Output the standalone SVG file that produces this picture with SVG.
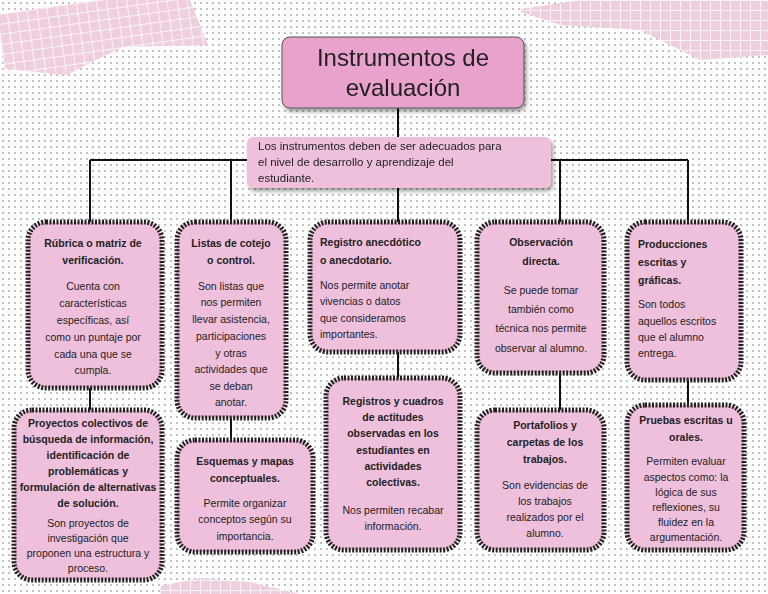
<svg xmlns="http://www.w3.org/2000/svg" width="768" height="594" viewBox="0 0 768 594">
<defs>
<pattern id="dots" width="6" height="6" patternUnits="userSpaceOnUse"><circle cx="3" cy="3" r="0.7" fill="#555"/></pattern>
<pattern id="grid" width="10" height="10" patternUnits="userSpaceOnUse"><rect width="10" height="10" fill="#efcfdf"/><path d="M0 0H10M0 0V10" stroke="#fff" stroke-width="1.5"/></pattern>
<filter id="sh" x="-10%" y="-10%" width="130%" height="130%"><feDropShadow dx="2" dy="3" stdDeviation="2" flood-opacity="0.4"/></filter>
</defs>
<style>
.box{fill:#efc0dc;stroke:#222;stroke-width:5;stroke-dasharray:2 1.5}
.t{font-family:"Liberation Sans",sans-serif;font-size:10.5px;fill:#222;text-anchor:middle}
.b{font-weight:bold}
.l{text-anchor:start}
.c{stroke:#111;stroke-width:2;fill:none}
</style>
<rect width="768" height="594" fill="#fff"/>
<rect width="768" height="594" fill="url(#dots)"/>
<path d="M0 0H190L205 60L120 50L60 70L0 55Z" fill="url(#grid)" transform="rotate(-8 100 30)"/>
<path d="M515 10L580 0H768V55L700 60L640 30L560 25Z" fill="url(#grid)"/>
<path d="M160 586L200 578L250 582L300 594H160Z" fill="url(#grid)"/>
<g id="connectors" class="c">
<path d="M90 160H688M90 160V222M231 160V222M398 160V222M560 160V222M688 160V222M398 137V108"/>
<path d="M90 388V410M231 418V440M398 352V378M560 373V410M688 380V405"/>
</g>
<g id="title" filter="url(#sh)"><rect x="282" y="37" width="242" height="71" rx="8" fill="#e8a2cc" stroke="#555" stroke-width="1"/>
<text x="403" y="66" class="t" style="font-size:24px">Instrumentos de</text><text x="403" y="96" class="t" style="font-size:24px">evaluación</text></g>
<g id="sub" filter="url(#sh)"><rect x="247" y="137" width="304" height="51" rx="6" fill="#efc0dc"/>
<g style="font-size:11.5px"><text class="t l" x="258" y="150" style="font-size:11.5px">Los instrumentos deben de ser adecuados para</text><text class="t l" x="258" y="166" style="font-size:11.5px">el nivel de desarrollo y aprendizaje del</text><text class="t l" x="258" y="182" style="font-size:11.5px">estudiante.</text></g></g>
<g id="n1"><rect class="box" x="28" y="222" width="134" height="166" rx="18"/>
<text class="t b" x="93" y="247">Rúbrica o matriz de</text><text class="t b" x="93" y="264">verificación.</text>
<text class="t" x="93" y="290">Cuenta con</text><text class="t" x="93" y="307">características</text><text class="t" x="93" y="324">específicas, así</text><text class="t" x="93" y="341">como un puntaje por</text><text class="t" x="93" y="358">cada una que se</text><text class="t" x="93" y="374">cumpla.</text></g>
<g id="n2"><rect class="box" x="177" y="222" width="109" height="196" rx="18"/>
<text class="t b" x="231" y="247">Listas de cotejo</text><text class="t b" x="231" y="264">o control.</text>
<text class="t" x="231" y="290">Son listas que</text><text class="t" x="231" y="306">nos permiten</text><text class="t" x="231" y="323">llevar asistencia,</text><text class="t" x="231" y="340">participaciones</text><text class="t" x="231" y="357">y otras</text><text class="t" x="231" y="373">actividades que</text><text class="t" x="231" y="390">se deban</text><text class="t" x="231" y="406">anotar.</text></g>
<g id="n3"><rect class="box" x="310" y="222" width="150" height="130" rx="18"/>
<text class="t b l" x="320" y="246">Registro anecdótico</text><text class="t b l" x="320" y="264">o anecdotario.</text>
<text class="t l" x="320" y="289">Nos permite anotar</text><text class="t l" x="320" y="305">vivencias o datos</text><text class="t l" x="320" y="322">que consideramos</text><text class="t l" x="320" y="338">importantes.</text></g>
<g id="n4"><rect class="box" x="477" y="222" width="127" height="151" rx="18"/>
<text class="t b" x="541" y="246">Observación</text><text class="t b" x="541" y="265">directa.</text>
<text class="t" x="541" y="294">Se puede tomar</text><text class="t" x="541" y="313">también como</text><text class="t" x="541" y="332">técnica nos permite</text><text class="t" x="541" y="352">observar al alumno.</text></g>
<g id="n5"><rect class="box" x="627" y="222" width="114" height="158" rx="18"/>
<text class="t b l" x="638" y="248">Producciones</text><text class="t b l" x="638" y="266">escritas y</text><text class="t b l" x="638" y="284">gráficas.</text>
<text class="t l" x="638" y="308">Son todos</text><text class="t l" x="638" y="325">aquellos escritos</text><text class="t l" x="638" y="341">que el alumno</text><text class="t l" x="638" y="357">entrega.</text></g>
<g id="n6"><rect class="box" x="14" y="410" width="148" height="170" rx="18"/>
<text class="t b" x="88" y="427">Proyectos colectivos de</text><text class="t b" x="88" y="443">búsqueda de información,</text><text class="t b" x="88" y="459">identificación de</text><text class="t b" x="88" y="475">problemáticas y</text><text class="t b" x="88" y="491">formulación de alternativas</text><text class="t b" x="88" y="507">de solución.</text>
<text class="t" x="88" y="527">Son proyectos de</text><text class="t" x="88" y="542">investigación que</text><text class="t" x="88" y="557">proponen una estructura y</text><text class="t" x="88" y="572">proceso.</text></g>
<g id="n7"><rect class="box" x="177" y="440" width="136" height="112" rx="18"/>
<text class="t b" x="245" y="465">Esquemas y mapas</text><text class="t b" x="245" y="482">conceptuales.</text>
<text class="t" x="245" y="507">Permite organizar</text><text class="t" x="245" y="523">conceptos según su</text><text class="t" x="245" y="540">importancia.</text></g>
<g id="n8"><rect class="box" x="326" y="378" width="134" height="172" rx="18"/>
<text class="t b" x="393" y="405">Registros y cuadros</text><text class="t b" x="393" y="421">de actitudes</text><text class="t b" x="393" y="437">observadas en los</text><text class="t b" x="393" y="454">estudiantes en</text><text class="t b" x="393" y="470">actividades</text><text class="t b" x="393" y="486">colectivas.</text>
<text class="t" x="393" y="514">Nos permiten recabar</text><text class="t" x="393" y="530">información.</text></g>
<g id="n9"><rect class="box" x="477" y="410" width="127" height="140" rx="18"/>
<text class="t b" x="545" y="429">Portafolios y</text><text class="t b" x="545" y="446">carpetas de los</text><text class="t b" x="545" y="463">trabajos.</text>
<text class="t" x="545" y="489">Son evidencias de</text><text class="t" x="545" y="505">los trabajos</text><text class="t" x="545" y="521">realizados por el</text><text class="t" x="545" y="537">alumno.</text></g>
<g id="n10"><rect class="box" x="627" y="405" width="117" height="145" rx="18"/>
<text class="t b" x="686" y="424">Pruebas escritas u</text><text class="t b" x="686" y="441">orales.</text>
<text class="t" x="686" y="465">Permiten evaluar</text><text class="t" x="686" y="481">aspectos como: la</text><text class="t" x="686" y="496">lógica de sus</text><text class="t" x="686" y="511">reflexiones, su</text><text class="t" x="686" y="526">fluidez en la</text><text class="t" x="686" y="541">argumentación.</text></g>
</svg>
